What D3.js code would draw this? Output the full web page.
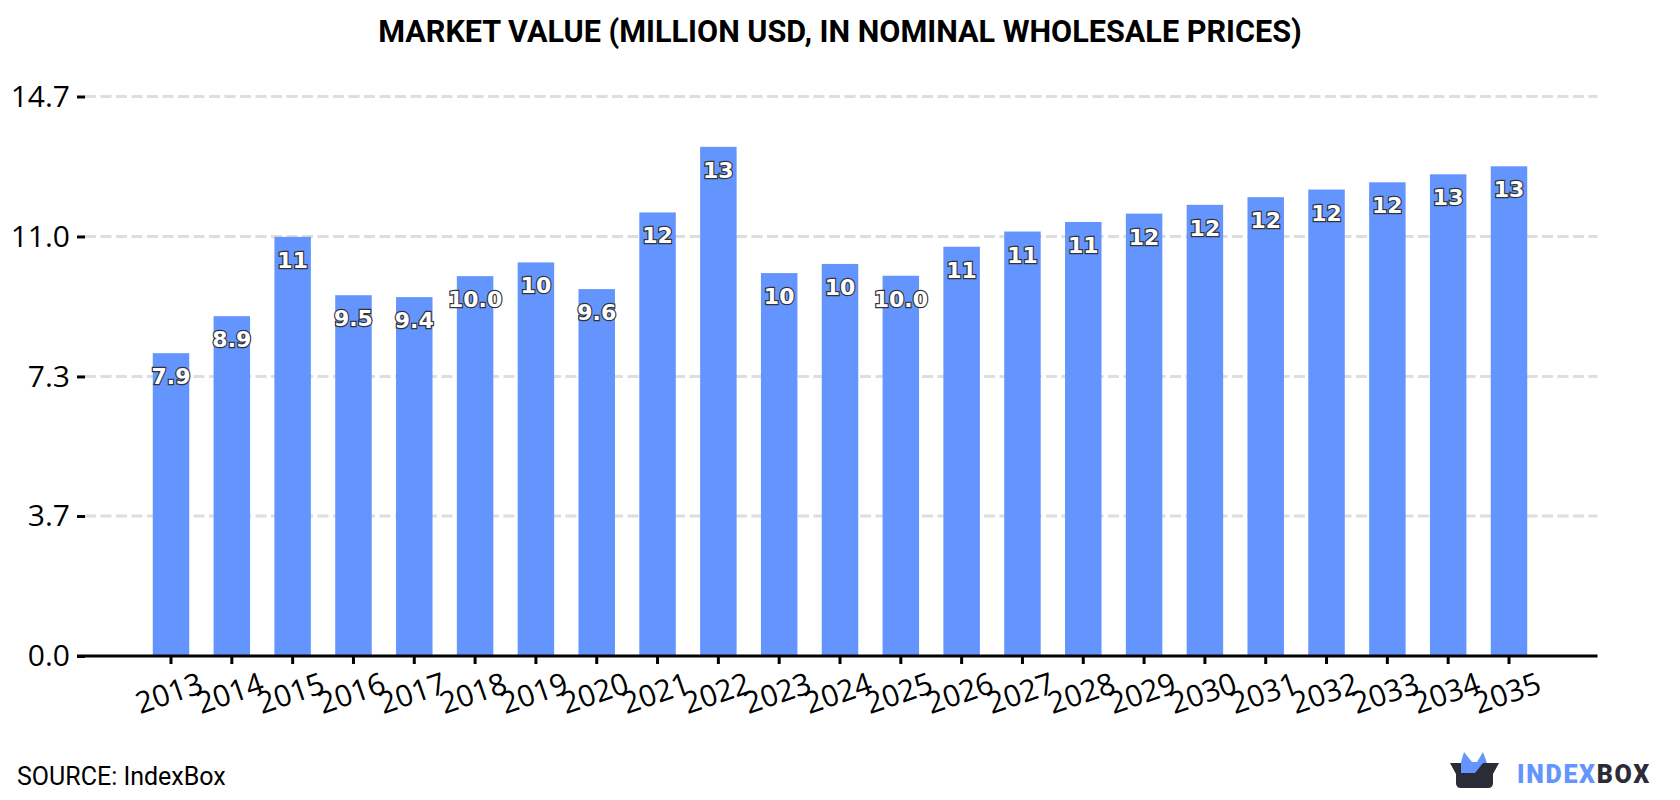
<!DOCTYPE html>
<html>
<head>
<meta charset="utf-8">
<script src="https://cdn.jsdelivr.net/npm/d3@7"></script>
<style>
html, body { margin: 0; padding: 0; background: #fff; }
svg { display: block; }
text { font-family: Roboto, sans-serif; }
</style>
</head>
<body>
<svg id="chart" width="1680" height="800"></svg>
<script>
const titleText = "MARKET VALUE (MILLION USD, IN NOMINAL WHOLESALE PRICES)";
const sourceText = "SOURCE: IndexBox";
const years = [2013,2014,2015,2016,2017,2018,2019,2020,2021,2022,2023,2024,2025,2026,2027,2028,2029,2030,2031,2032,2033,2034,2035];
const marketValue = [7.94,8.91,10.99,9.46,9.41,9.96,10.32,9.62,11.63,13.35,10.04,10.28,9.97,10.73,11.13,11.38,11.6,11.83,12.03,12.23,12.42,12.63,12.84];
const yTicks = [0,3.67,7.33,11,14.67];

const svg = d3.select("#chart");
const margin = { axisLeft: 85, axisRight: 1597.5, top: 96.5, bottom: 656 };
const axisFont = "'Open Sans', sans-serif";

const x = d3.scaleBand().domain(years).range([140.6, 1539.4]).paddingInner(0.4).paddingOuter(0.2);
const y = d3.scaleLinear().domain([0, 14.67]).range([margin.bottom, margin.top]);

svg.append("text")
  .attr("x", 840).attr("y", 42)
  .attr("text-anchor", "middle")
  .style("font-size", "30.6px").style("font-weight", 700).style("fill", "#000")
  .text(titleText);

// Horizontal guides, drawn under the bars
svg.append("g").selectAll("line")
  .data(yTicks.filter(d => d > 0))
  .join("line")
  .attr("x1", margin.axisLeft).attr("x2", margin.axisRight)
  .attr("y1", d => y(d)).attr("y2", d => y(d))
  .attr("stroke", "#dedede").attr("stroke-width", 3).attr("stroke-dasharray", "11 4.5");

svg.append("g").selectAll("rect")
  .data(years)
  .join("rect")
  .attr("x", d => x(d))
  .attr("width", x.bandwidth())
  .attr("y", (d, i) => y(marketValue[i]))
  .attr("height", (d, i) => y(0) - y(marketValue[i]))
  .attr("fill", "#6495ff");

// Value axis
const yAxis = svg.append("g")
  .attr("transform", `translate(${margin.axisLeft},0)`)
  .call(d3.axisLeft(y).tickValues(yTicks).tickFormat(d3.format(".1f")).tickSize(8).tickPadding(7));
yAxis.select(".domain").remove();
yAxis.selectAll("line").attr("stroke", "#000").attr("stroke-width", 3);
yAxis.selectAll("text").style("font-family", axisFont).style("font-size", "30px").attr("fill", "#000");

// Year axis
const xAxis = svg.append("g")
  .attr("transform", `translate(0,${margin.bottom})`)
  .call(d3.axisBottom(x).tickSize(8).tickSizeOuter(0));
xAxis.select(".domain").remove();
xAxis.selectAll("line").attr("stroke", "#000").attr("stroke-width", 3);
xAxis.selectAll("text")
  .style("font-family", axisFont).style("font-size", "30px").attr("fill", "#000")
  .attr("text-anchor", "middle")
  .attr("y", 0).attr("dy", 0)
  .attr("transform", "translate(1.5,47) rotate(-19)");

svg.append("line")
  .attr("x1", 77).attr("x2", margin.axisRight)
  .attr("y1", margin.bottom).attr("y2", margin.bottom)
  .attr("stroke", "#000").attr("stroke-width", 3);

// Value labels: one decimal under ten, whole numbers from ten upward
const valueLabel = v => v < 10 ? v.toFixed(1) : v.toFixed(0);
svg.append("g").selectAll("text")
  .data(years)
  .join("text")
  .attr("x", d => x(d) + x.bandwidth() / 2)
  .attr("y", (d, i) => y(marketValue[i]) + 31)
  .attr("text-anchor", "middle")
  .style("font-family", "'DejaVu Sans', sans-serif")
  .style("font-size", "22px").style("font-weight", 700)
  .attr("fill", "#fff").attr("stroke", "#333").attr("stroke-width", 2.4)
  .attr("paint-order", "stroke")
  .text((d, i) => valueLabel(marketValue[i]));

svg.append("text")
  .attr("x", 17).attr("y", 785)
  .style("font-size", "25px").attr("fill", "#000")
  .text(sourceText);

// Brand mark and wordmark
const logo = svg.append("g");
logo.append("path").attr("d", "M1461 774 L1461 762 L1464 752 L1472 762 L1477 762 L1483 752 L1487 763 L1480 774 Z").attr("fill", "#6495ff");
logo.append("path").attr("d", "M1450 763 L1461 763 L1461 773 L1475 773 L1483 763 L1499 763 L1493 774 L1493 783 Q1493 788 1488 788 L1461 788 Q1456 788 1456 783 L1456 774 Z").attr("fill", "#2b2c38");
const word = logo.append("text").attr("x", 1517).attr("y", 782.5)
  .style("font-size", "25px").style("font-weight", 900).style("letter-spacing", "1.7px");
word.append("tspan").attr("fill", "#6495ff").text("INDEX");
word.append("tspan").attr("fill", "#2b2c38").text("BOX");
</script>
</body>
</html>
